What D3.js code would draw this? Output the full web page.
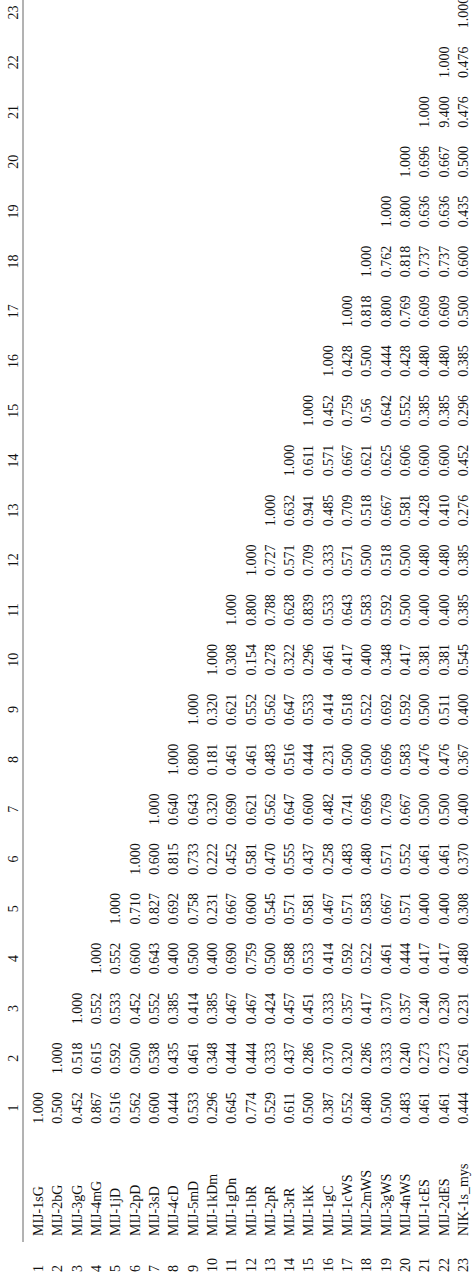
<!DOCTYPE html>
<html><head><meta charset="utf-8">
<script src="https://cdn.jsdelivr.net/npm/d3@7"></script>
<style>body{margin:0;background:#fff}</style>
</head><body>
<script>
const names=["MIJ-1sG","MIJ-2bG","MIJ-3gG","MIJ-4mG","MIJ-1jD","MIJ-2pD","MIJ-3sD","MIJ-4cD","MIJ-5mD","MIJ-1kDm","MIJ-1gDn","MIJ-1bR","MIJ-2pR","MIJ-3rR","MIJ-1kK","MIJ-1gC","MIJ-1cWS","MIJ-2mWS","MIJ-3gWS","MIJ-4nWS","MIJ-1cES","MIJ-2dES","NIK-1s_mys"];
const headers=d3.range(1,24).map(String);
// columns of lower-triangular matrix, each starting at the diagonal
const col1=["1.000","0.500","0.452","0.867","0.516","0.562","0.600","0.444","0.533","0.296","0.645","0.774","0.529","0.611","0.500","0.387","0.552","0.480","0.500","0.483","0.461","0.461","0.444"];
const col2=["1.000","0.518","0.615","0.592","0.500","0.538","0.435","0.461","0.348","0.444","0.444","0.333","0.437","0.286","0.370","0.320","0.286","0.333","0.240","0.273","0.273","0.261"];
const col3=["1.000","0.552","0.533","0.452","0.552","0.385","0.414","0.385","0.467","0.467","0.424","0.457","0.451","0.333","0.357","0.417","0.370","0.357","0.240","0.230","0.231"];
const col4=["1.000","0.552","0.600","0.643","0.400","0.500","0.400","0.690","0.759","0.500","0.588","0.533","0.414","0.592","0.522","0.461","0.444","0.417","0.417","0.480"];
const col5=["1.000","0.710","0.827","0.692","0.758","0.231","0.667","0.600","0.545","0.571","0.581","0.467","0.571","0.583","0.667","0.571","0.400","0.400","0.308"];
const col6=["1.000","0.600","0.815","0.733","0.222","0.452","0.581","0.470","0.555","0.437","0.258","0.483","0.480","0.571","0.552","0.461","0.461","0.370"];
const col7=["1.000","0.640","0.643","0.320","0.690","0.621","0.562","0.647","0.600","0.482","0.741","0.696","0.769","0.667","0.500","0.500","0.400"];
const col8=["1.000","0.800","0.181","0.461","0.461","0.483","0.516","0.444","0.231","0.500","0.500","0.696","0.583","0.476","0.476","0.367"];
const col9=["1.000","0.320","0.621","0.552","0.562","0.647","0.533","0.414","0.518","0.522","0.692","0.592","0.500","0.511","0.400"];
const col10=["1.000","0.308","0.154","0.278","0.322","0.296","0.461","0.417","0.400","0.348","0.417","0.381","0.381","0.545"];
const col11=["1.000","0.800","0.788","0.628","0.839","0.533","0.643","0.583","0.592","0.500","0.400","0.400","0.385"];
const col12=["1.000","0.727","0.571","0.709","0.333","0.571","0.500","0.518","0.500","0.480","0.480","0.385"];
const col13=["1.000","0.632","0.941","0.485","0.709","0.518","0.667","0.581","0.428","0.410","0.276"];
const col14=["1.000","0.611","0.571","0.667","0.621","0.625","0.606","0.600","0.600","0.452"];
const col15=["1.000","0.452","0.759","0.56","0.642","0.552","0.385","0.385","0.296"];
const col16=["1.000","0.428","0.500","0.444","0.428","0.480","0.480","0.385"];
const col17=["1.000","0.818","0.800","0.769","0.609","0.609","0.500"];
const col18=["1.000","0.762","0.818","0.737","0.737","0.600"];
const col19=["1.000","0.800","0.636","0.636","0.435"];
const col20=["1.000","0.696","0.667","0.500"];
const col21=["1.000","9.400","0.476"];
const col22=["1.000","0.476"];
const col23=["1.000"];
const cols=[col1,col2,col3,col4,col5,col6,col7,col8,col9,col10,col11,col12,col13,col14,col15,col16,col17,col18,col19,col20,col21,col22,col23];

const W=474,H=1275;
const svg=d3.select("body").append("svg").attr("width",W).attr("height",H);
// rotated frame: u along the page upward, v to the right
const g=svg.append("g").attr("transform",`translate(0,${H}) rotate(-90)`)
  .style("font-family","'Liberation Serif','Times New Roman',serif").style("font-size","14px").attr("fill","#111");
const rowPos=d3.scalePoint().domain(d3.range(23)).range([38,463]);
const colPos=d3.scalePoint().domain(d3.range(23)).range([167,167+22*49.8]);
const base=5; // baseline offset

g.append("line").attr("x1",33).attr("x2",H).attr("y1",23).attr("y2",23).attr("stroke","#666").attr("stroke-width",1);
g.selectAll("text.h").data(headers).join("text").attr("x",(d,i)=>colPos(i)).attr("y",13+base).attr("text-anchor","middle").text(d=>d);
g.selectAll("text.n").data(names).join("text").attr("x",3).attr("y",(d,i)=>rowPos(i)+base).text((d,i)=>i+1);
g.selectAll("text.nm").data(names).join("text").attr("x",39).attr("y",(d,i)=>rowPos(i)+base).text(d=>d);
const cells=[];
cols.forEach((c,j)=>c.forEach((v,k)=>cells.push({j,i:j+k,v})));
g.selectAll("text.v").data(cells).join("text").attr("x",d=>colPos(d.j)).attr("y",d=>rowPos(d.i)+base).attr("text-anchor","middle").text(d=>d.v);
</script>
</body></html>
